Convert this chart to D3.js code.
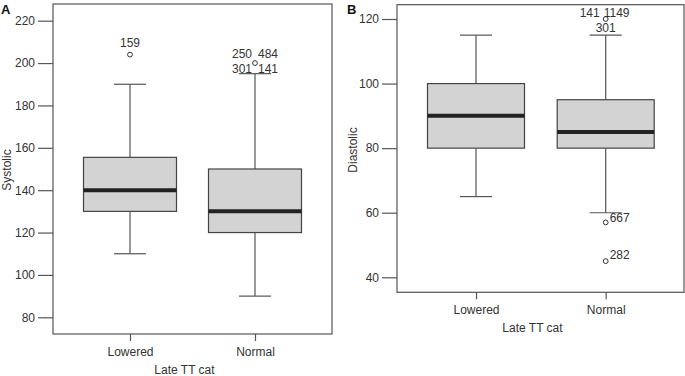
<!DOCTYPE html>
<html>
<head>
<meta charset="utf-8">
<script src="https://cdn.jsdelivr.net/npm/d3@7"></script>
<style>
  body { margin: 0; background: #fff; }
  text { font-family: "Liberation Sans", Arial, sans-serif; fill: #333; }
</style>
</head>
<body>
<svg id="chart" width="685" height="376"></svg>
<script>
// data
const categories = ["Lowered", "Normal"];

// [lowWhisker, q1, median, q3, highWhisker]
const systolicStats = [[110, 130, 140, 155.5, 190], [90, 120, 130, 150, 195]];
const diastolicStats = [[65, 80, 90, 100, 115], [60, 80, 85, 95, 115]];

const systolicOutliers = [
  {cat: "Lowered", value: 204, ids: ["159"]},
  {cat: "Normal", value: 200, ids: ["250", "484", "301", "141"]}
];
const diastolicOutliers = [
  {cat: "Normal", value: 120, ids: ["141", "1149", "301"]},
  {cat: "Normal", value: 57, ids: ["667"]},
  {cat: "Normal", value: 45, ids: ["282"]}
];

const systolicTicks = [80, 100, 120, 140, 160, 180, 200, 220];
const diastolicTicks = [40, 60, 80, 100, 120];

const svg = d3.select("#chart");

function panel(opt) {
  const g = svg.append("g");
  const x = d3.scalePoint().domain(categories).range(opt.xr);
  const y = d3.scaleLinear().domain(opt.ydom).range(opt.yr);
  const bw = opt.bw;

  // frame
  g.append("rect")
    .attr("x", opt.frame[0]).attr("y", opt.frame[1])
    .attr("width", opt.frame[2] - opt.frame[0]).attr("height", opt.frame[3] - opt.frame[1])
    .attr("fill", "none").attr("stroke", "#555").attr("stroke-width", 1.2);

  // y axis
  const yAxis = d3.axisLeft(y).tickValues(opt.ticks).tickSize(15).tickPadding(3);
  const ya = g.append("g").attr("transform", `translate(${opt.frame[0]},0)`).call(yAxis);
  ya.select(".domain").remove();
  ya.selectAll("line").attr("stroke", "#555").attr("stroke-width", 1.2);
  ya.selectAll("text").attr("font-size", 12).attr("fill", "#333")
    .style("font-family", "'Liberation Sans', Arial, sans-serif");

  // x axis
  const xAxis = d3.axisBottom(x).tickSize(7).tickPadding(6);
  const xa = g.append("g").attr("transform", `translate(0,${opt.frame[3]})`).call(xAxis);
  xa.select(".domain").remove();
  xa.selectAll("line").attr("stroke", "#555").attr("stroke-width", 1.2);
  xa.selectAll("text").attr("font-size", 12).attr("fill", "#333")
    .style("font-family", "'Liberation Sans', Arial, sans-serif");

  // titles
  g.append("text")
    .attr("x", (opt.frame[0] + opt.frame[2]) / 2 - 8)
    .attr("y", opt.frame[3] + 40)
    .attr("text-anchor", "middle").attr("font-size", 12)
    .text("Late TT cat");
  g.append("text")
    .attr("transform", `translate(${opt.ytx},${opt.yty}) rotate(-90)`)
    .attr("text-anchor", "middle").attr("font-size", 12)
    .text(opt.ylabel);
  g.append("text")
    .attr("x", opt.letter[0]).attr("y", opt.letter[1])
    .attr("font-size", 13).attr("font-weight", "bold").style("fill", "#111")
    .text(opt.letterText);

  // boxes
  opt.stats.forEach((s, i) => {
    const cx = x(categories[i]);
    const b = g.append("g");
    b.append("line").attr("x1", cx).attr("x2", cx).attr("y1", y(s[0])).attr("y2", y(s[1]))
      .attr("stroke", "#555").attr("stroke-width", 1.2);
    b.append("line").attr("x1", cx).attr("x2", cx).attr("y1", y(s[3])).attr("y2", y(s[4]))
      .attr("stroke", "#555").attr("stroke-width", 1.2);
    [s[0], s[4]].forEach(v => {
      b.append("line").attr("x1", cx - 16).attr("x2", cx + 16).attr("y1", y(v)).attr("y2", y(v))
        .attr("stroke", "#555").attr("stroke-width", 1.2);
    });
    b.append("rect")
      .attr("x", cx - bw / 2).attr("y", y(s[3]))
      .attr("width", bw).attr("height", y(s[1]) - y(s[3]))
      .attr("fill", "#d3d3d3").attr("stroke", "#444").attr("stroke-width", 1.2);
    b.append("line").attr("x1", cx - bw / 2).attr("x2", cx + bw / 2)
      .attr("y1", y(s[2])).attr("y2", y(s[2]))
      .attr("stroke", "#222").attr("stroke-width", 4);
  });

  // outliers
  opt.outliers.forEach((o, i) => {
    const cx = x(o.cat), cy = y(o.value);
    g.append("circle").attr("cx", cx).attr("cy", cy).attr("r", 2.4)
      .attr("fill", "none").attr("stroke", "#333").attr("stroke-width", 1);
    opt.place[i].forEach((p, k) => {
      g.append("text")
        .attr("x", cx + p[0]).attr("y", cy + p[1])
        .attr("text-anchor", p[2]).attr("font-size", 12)
        .text(o.ids[k]);
    });
  });
}

panel({
  xr: [130, 255], ydom: [80, 220], yr: [317.3, 20.7], bw: 93,
  frame: [53, 4, 332, 334], ticks: systolicTicks,
  stats: systolicStats, outliers: systolicOutliers,
  ylabel: "Systolic", ytx: 11, yty: 170,
  letter: [1, 14], letterText: "A",
  place: [
    [[0, -8, "middle"]],
    [[-3, -5, "end"], [3, -5, "start"], [-3, 10, "end"], [3, 10, "start"]]
  ]
});

panel({
  xr: [476, 605.7], ydom: [40, 120], yr: [277.3, 19], bw: 97,
  frame: [397, 4.7, 684, 292.3], ticks: diastolicTicks,
  stats: diastolicStats, outliers: diastolicOutliers,
  ylabel: "Diastolic", ytx: 357, yty: 150,
  letter: [347, 14], letterText: "B",
  place: [
    [[-6, -2.5, "end"], [-2, -2.5, "start"], [0, 13, "middle"]],
    [[4, 0, "start"]],
    [[4, -2, "start"]]
  ]
});
</script>
</body>
</html>
